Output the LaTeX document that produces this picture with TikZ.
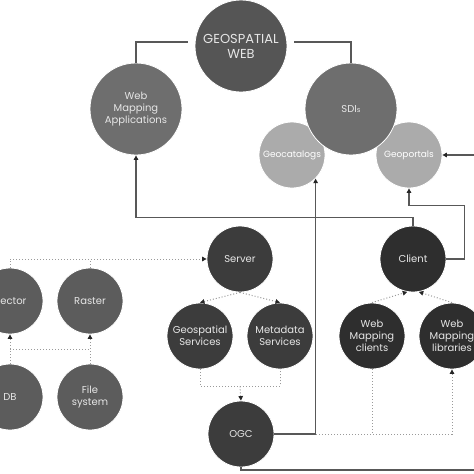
\documentclass[tikz,border=0pt]{standalone}
\usepackage{fontspec}
\setmainfont{Poppins}
\usetikzlibrary{arrows.meta,calc}
\definecolor{gwcol}{HTML}{555555}
\definecolor{midcol}{HTML}{6E6E6E}
\definecolor{lightcol}{HTML}{ABABAB}
\definecolor{datacol}{HTML}{5C5C5C}
\definecolor{darkcol}{HTML}{3C3C3C}
\definecolor{blackcol}{HTML}{2E2E2E}
\definecolor{linecol}{HTML}{585858}
\definecolor{dotcol}{HTML}{9A9A9A}
\definecolor{txtcol}{HTML}{E6E6E6}
\tikzset{
  bub/.style={circle,inner sep=0pt,align=center,draw=white,line width=0.8pt,text=txtcol,
    font=\fontsize{10}{12.3}\selectfont},
  big/.style={bub,minimum size=92pt},
  small/.style={bub,minimum size=66pt},
  conn/.style={draw=linecol,line width=1.1pt},
  dots/.style={draw=dotcol,line width=1pt,dotted},
  arr/.style={-{Triangle[width=4.5pt,length=4.5pt,fill=black!85,color=black!85]}},
}
\begin{document}
\begin{tikzpicture}[x=1pt,y=-1pt]
\useasboundingbox (0,0) rectangle (474,474);
\fill[white] (0,0) rectangle (474,474);
% top level
\node[big,fill=gwcol,font=\fontsize{13}{15}\selectfont] (gw) at (241,46) {GEOSPATIAL\\WEB};
\node[big,fill=midcol] (wma) at (136,109) {Web\\Mapping\\Applications};
\node[small,fill=lightcol,text=white,font=\fontsize{9}{11}\selectfont] (geocat) at (292,155) {Geocatalogs};
\node[small,fill=lightcol,text=white,font=\fontsize{9}{11}\selectfont] (geop) at (409,155) {Geoportals};
\node[big,fill=midcol] (sdi) at (351,109) {SDI{\fontsize{7}{8}\selectfont s}};
% middle
\node[small,fill=darkcol] (server) at (240,259) {Server};
\node[small,fill=blackcol] (client) at (413,259) {Client};
\node[small,fill=datacol] (vector) at (10,301) {Vector};
\node[small,fill=datacol] (raster) at (90,301) {Raster};
\node[small,fill=datacol] (db) at (10,397) {DB};
\node[small,fill=datacol] (fs) at (90,397) {File\\system};
\node[small,fill=darkcol] (geos) at (200,336) {Geospatial\\Services};
\node[small,fill=darkcol] (meta) at (280,336) {Metadata\\Services};
\node[small,fill=blackcol] (wmc) at (372,336) {Web\\Mapping\\clients};
\node[small,fill=blackcol] (wml) at (452,336) {Web\\Mapping\\libraries};
\node[small,fill=darkcol] (ogc) at (241,434) {OGC};
\coordinate (gpin) at (474,155);
\coordinate (ogcout) at (474,470);
% dotted connectors
\draw[dots,arr] (vector.north) |- (server.west);
\draw[dots] (raster.north) -- (raster.north |- server.west);
\draw[dots,arr] (db.north) -- (vector.south);
\draw[dots,arr] (fs.north) -- (raster.south);
\draw[dots] ($(vector.south)!0.5!(db.north)$) -- ($(raster.south)!0.5!(fs.north)$);
\draw[dots,arr] (server.south) -- (geos.north);
\draw[dots,arr] (server.south) -- (meta.north);
\draw[dots] (geos.south) -- ++(0,17) -| (meta.south);
\draw[dots,arr] ($(geos.south)!0.5!(meta.south)+(0,17)$) -- (ogc.north);
\draw[dots,arr] (wmc.north) -- (client.-100);
\draw[dots,arr] (wml.north) -- (client.-80);
\draw[dots,arr] (ogc.east) -| (wml.south);
\draw[dots] (wmc.south) -- (wmc.south |- ogc.east);
% solid connectors
\draw[conn,shorten <=7pt] (gw.175) -| (wma.north);
\draw[conn,shorten <=7pt] (gw.5) -| (sdi.north);
\draw[conn,arr] (client.north) -- ++(0,-8) -| (wma.south);
\draw[conn,arr] (ogc.east) -| (geocat.-45);
\draw[conn,arr] (client.east) -- ++(18,0) |- ($(geop.south)+(0,17)$) -- (geop.south);
\draw[conn,arr] (gpin) -- (geop.east);
\draw[conn] (ogc.south) |- (ogcout);
\end{tikzpicture}
\end{document}
